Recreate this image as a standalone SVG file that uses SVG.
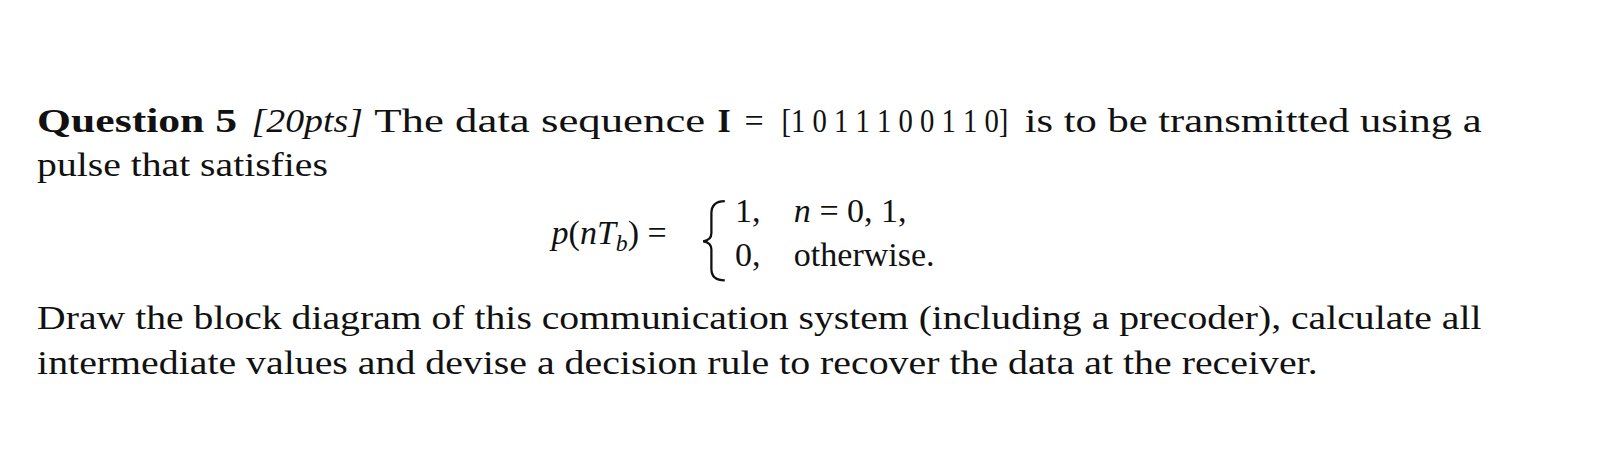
<svg xmlns="http://www.w3.org/2000/svg" width="1610" height="470" viewBox="0 0 1610 470">
<style>
text{font-family:"Liberation Serif","Times New Roman",serif;font-size:33px;fill:#111}
.b{font-weight:bold}.i{font-style:italic}
</style>
<rect width="1610" height="470" fill="#fff"/>
<g transform="scale(1.031)">
<text x="36" y="128" class="b" textLength="194" lengthAdjust="spacingAndGlyphs">Question 5</text>
<text x="244" y="128" class="i" textLength="108" lengthAdjust="spacingAndGlyphs">[20pts]</text>
<text x="363" y="128" textLength="321" lengthAdjust="spacingAndGlyphs">The data sequence</text>
<text x="696" y="128" class="b">I</text>
<text x="722" y="128">=</text>
<text x="758" y="128" textLength="220" lengthAdjust="spacingAndGlyphs">[1 0 1 1 1 0 0 1 1 0]</text>
<text x="994" y="128" textLength="443" lengthAdjust="spacingAndGlyphs">is to be transmitted using a</text>
<text x="36" y="171" textLength="282" lengthAdjust="spacingAndGlyphs">pulse that satisfies</text>
<text x="535" y="237"><tspan class="i">p</tspan>(<tspan class="i">nT</tspan><tspan class="i" font-size="23" dy="6">b</tspan><tspan dy="-6">)</tspan> =</text>
<path d="M703 195 Q690 195 690 207 L690 226 Q690 233 682 234 Q690 235 690 242 L690 261 Q690 272 703 272" fill="none" stroke="#111" stroke-width="2.2"/>
<text x="713" y="215">1,</text>
<text x="770" y="215"><tspan class="i">n</tspan> = 0, 1,</text>
<text x="713" y="258">0,</text>
<text x="770" y="258">otherwise.</text>
<text x="36" y="319" textLength="1401" lengthAdjust="spacingAndGlyphs">Draw the block diagram of this communication system (including a precoder), calculate all</text>
<text x="36" y="363" textLength="1242" lengthAdjust="spacingAndGlyphs">intermediate values and devise a decision rule to recover the data at the receiver.</text>
</g>
</svg>
